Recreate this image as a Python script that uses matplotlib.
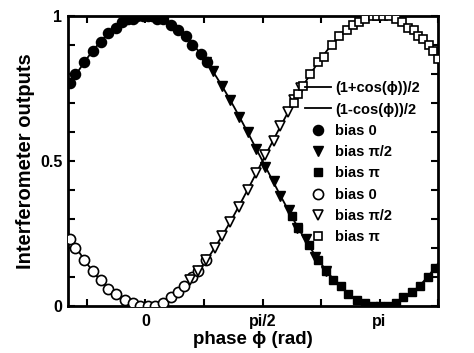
import matplotlib
matplotlib.use("Agg")
import matplotlib.pyplot as plt
import numpy as np

plt.rcParams['font.family'] = ['Liberation Sans', 'DejaVu Sans']
plt.rcParams['font.weight'] = 'bold'

# Measured points, bias 0 / pi/2 / pi, on the (1+cos)/2 output (filled markers)
ph_b0_a = [-1.01, -0.94, -0.83, -0.71, -0.60, -0.50, -0.39, -0.31, -0.24, -0.17, -0.11,
           -0.04, 0.03, 0.09, 0.16, 0.23, 0.34, 0.43, 0.54, 0.63, 0.74, 0.83]
y_b0_a = [0.77, 0.80, 0.84, 0.88, 0.91, 0.94, 0.96, 0.98, 0.99, 0.99, 1.00,
          1.00, 1.00, 1.00, 0.99, 0.99, 0.97, 0.95, 0.93, 0.90, 0.87, 0.84]
ph_b90_a = [0.81, 0.91, 1.03, 1.14, 1.26, 1.37, 1.49, 1.61, 1.72, 1.81, 1.92, 2.04, 2.15, 2.28, 2.42]
y_b90_a = [0.84, 0.81, 0.76, 0.71, 0.65, 0.60, 0.54, 0.48, 0.43, 0.38, 0.33, 0.27, 0.23, 0.17, 0.12]
ph_b180_a = [1.97, 2.05, 2.19, 2.31, 2.42, 2.52, 2.62, 2.72, 2.84, 2.95, 3.05, 3.15, 3.25,
             3.36, 3.46, 3.58, 3.69, 3.79, 3.89]
y_b180_a = [0.31, 0.27, 0.21, 0.16, 0.12, 0.09, 0.07, 0.04, 0.02, 0.01, 0.00, 0.00, 0.00,
            0.01, 0.03, 0.05, 0.07, 0.10, 0.13]

# Same biases on the (1-cos)/2 output (open markers)
ph_b0_b = [-1.01, -0.94, -0.83, -0.71, -0.60, -0.50, -0.39, -0.28, -0.17, -0.08, 0.03,
           0.13, 0.24, 0.34, 0.43, 0.52, 0.63, 0.71, 0.81]
y_b0_b = [0.23, 0.20, 0.16, 0.12, 0.09, 0.06, 0.04, 0.02, 0.01, 0.00, 0.00,
          0.00, 0.01, 0.03, 0.05, 0.07, 0.10, 0.12, 0.16]
ph_b90_b = [0.60, 0.70, 0.81, 0.93, 1.03, 1.14, 1.25, 1.37, 1.49, 1.61, 1.72, 1.81, 1.91, 2.00, 2.09]
y_b90_b = [0.09, 0.12, 0.16, 0.20, 0.24, 0.29, 0.34, 0.40, 0.46, 0.52, 0.57, 0.62, 0.67, 0.71, 0.75]
ph_b180_b = [1.99, 2.05, 2.12, 2.21, 2.31, 2.39, 2.50, 2.60, 2.70, 2.79, 2.87, 2.95, 3.05,
             3.11, 3.19, 3.27, 3.36, 3.44, 3.52, 3.60, 3.66, 3.73, 3.80, 3.86, 3.92]
y_b180_b = [0.70, 0.73, 0.76, 0.80, 0.84, 0.86, 0.90, 0.93, 0.95, 0.97, 0.98, 0.99, 1.00,
            1.00, 1.00, 1.00, 0.99, 0.98, 0.96, 0.95, 0.93, 0.92, 0.90, 0.88, 0.85]

x_min, x_max = -1.04, 5 * np.pi / 4
x_ticks = [-np.pi / 4, 0, np.pi / 4, np.pi / 2, 3 * np.pi / 4, np.pi, 5 * np.pi / 4]
x_ticklabels = ['', '0', '', 'pi/2', '', 'pi', '']
y_ticks = np.round(np.arange(0, 1.01, 0.1), 1)
y_ticklabels = ['0', '', '', '', '', '0.5', '', '', '', '', '1']

fig = plt.figure(figsize=(4.74, 3.53), dpi=100)
ax = fig.add_axes([0.1435, 0.1331, 0.7806, 0.8216])

# Theory curves
phi = np.linspace(x_min, x_max, 400)
ax.plot(phi, (1 + np.cos(phi)) / 2, 'k-', lw=1.3, label='(1+cos(\u03d5))/2', zorder=2)
ax.plot(phi, (1 - np.cos(phi)) / 2, 'k-', lw=1.3, label='(1-cos(\u03d5))/2', zorder=2)

ms = 7.3
ax.plot(ph_b0_a, y_b0_a, 'ko', ms=ms, ls='none', label='bias 0', zorder=3)
ax.plot(ph_b90_a, y_b90_a, 'kv', ms=ms, ls='none', label='bias \u03c0/2', zorder=3)
ax.plot(ph_b180_a, y_b180_a, 'ks', ms=ms - 1, ls='none', label='bias \u03c0', zorder=3)
ax.plot(ph_b0_b, y_b0_b, 'o', mfc='white', mec='k', mew=1.2, ms=ms, ls='none', label='bias 0', zorder=3)
ax.plot(ph_b90_b, y_b90_b, 'v', mfc='white', mec='k', mew=1.2, ms=ms, ls='none', label='bias \u03c0/2', zorder=3)
ax.plot(ph_b180_b, y_b180_b, 's', mfc='white', mec='k', mew=1.2, ms=ms - 1, ls='none', label='bias \u03c0', zorder=3)

ax.set_xlim(x_min, x_max)
ax.set_ylim(0, 1)
ax.set_xticks(x_ticks)
ax.set_xticklabels(x_ticklabels)
ax.set_yticks(y_ticks)
ax.set_yticklabels(y_ticklabels)
ax.tick_params(direction='in', top=True, right=True, length=5, width=1.5,
               labelsize=11.5)
ax.tick_params(axis='x', pad=6)
ax.tick_params(axis='y', pad=4)
for lab in ax.get_xticklabels() + ax.get_yticklabels():
    lab.set_fontweight('bold')
for sp in ax.spines.values():
    sp.set_linewidth(2)

ax.set_xlabel('phase \u03d5 (rad)', fontsize=13.5, fontweight='bold', labelpad=1)
ax.set_ylabel('Interferometer outputs', fontsize=14.5, fontweight='bold', labelpad=4)

leg = ax.legend(loc='upper left', bbox_to_anchor=(0.64, 0.775), frameon=False,
                fontsize=10.5, handlelength=1.8, handletextpad=0.3, labelspacing=0.5,
                borderpad=0, borderaxespad=0)
for t in leg.get_texts():
    t.set_fontweight('bold')

fig.savefig('out.png', dpi=100)
